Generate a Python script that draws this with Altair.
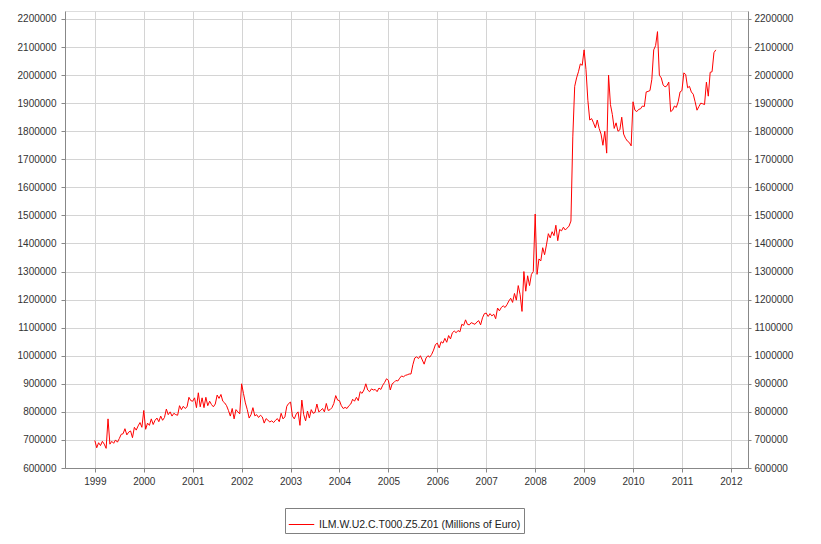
import altair as alt
import pandas as pd

SERIES = "ILM.W.U2.C.T000.Z5.Z01 (Millions of Euro)"

# values in thousands of millions (x1000), roughly every two weeks
v1999 = [698, 672, 690, 680, 695, 685, 670, 775, 685, 695, 688, 700, 692, 705, 720, 722, 740, 718, 728, 732, 708, 745, 735, 750, 762, 745]
v2000 = [805, 738, 760, 752, 775, 755, 770, 778, 765, 785, 770, 780, 810, 790, 800, 785, 795, 790, 788, 822, 808, 820, 812, 818, 852, 840]
v2001 = [838, 850, 815, 868, 818, 850, 815, 852, 822, 838, 826, 818, 828, 860, 848, 862, 838, 832, 822, 805, 785, 812, 775, 808, 800, 793]
v2002 = [900, 865, 832, 808, 778, 790, 815, 786, 790, 780, 788, 782, 760, 776, 770, 764, 768, 762, 770, 776, 765, 795, 775, 782, 820, 830]
v2003 = [835, 785, 775, 792, 800, 752, 842, 790, 768, 803, 778, 808, 795, 798, 828, 800, 805, 812, 800, 830, 805, 808, 815, 830, 858, 842]
v2004 = [840, 822, 812, 816, 812, 822, 828, 845, 838, 852, 840, 872, 866, 878, 900, 878, 872, 882, 878, 880, 872, 885, 880, 895, 905, 918]
v2005 = [912, 878, 900, 905, 912, 910, 920, 928, 925, 930, 932, 935, 935, 968, 992, 996, 990, 1000, 985, 970, 992, 1000, 995, 1005, 1020, 1040]
v2006 = [1045, 1028, 1050, 1045, 1062, 1048, 1072, 1060, 1082, 1088, 1082, 1090, 1085, 1112, 1108, 1128, 1112, 1110, 1118, 1115, 1112, 1120, 1125, 1110, 1135, 1150]
v2007 = [1152, 1140, 1150, 1142, 1148, 1132, 1170, 1160, 1172, 1178, 1172, 1182, 1195, 1205, 1190, 1222, 1198, 1250, 1218, 1158, 1300, 1230, 1285, 1250, 1290, 1300]
v2008 = [1505, 1290, 1345, 1338, 1385, 1360, 1395, 1435, 1420, 1442, 1428, 1465, 1410, 1450, 1445, 1458, 1448, 1455, 1462, 1480, 1780, 1960, 1990, 2012, 2040, 2035]
v2009 = [2090, 2020, 1910, 1840, 1845, 1830, 1812, 1840, 1810, 1790, 1750, 1800, 1722, 2000, 1895, 1860, 1810, 1830, 1800, 1805, 1850, 1790, 1775, 1765, 1760, 1748]
v2010 = [1905, 1875, 1870, 1878, 1880, 1890, 1888, 1940, 1942, 1945, 1985, 2090, 2105, 2155, 2000, 1990, 1965, 1958, 1962, 1975, 1870, 1875, 1890, 1885, 1905, 1940]
v2011 = [1945, 2008, 2002, 1955, 1960, 1940, 1932, 1905, 1875, 1888, 1900, 1898, 1895, 1975, 1925, 2010, 2012, 2080, 2090]

years = list(range(1999, 2012))
yearly = [v1999, v2000, v2001, v2002, v2003, v2004, v2005, v2006, v2007, v2008, v2009, v2010, v2011]

x_ticks = list(range(1999, 2013))
y_ticks = list(range(600000, 2200001, 100000))

rows = []
for yr, vals in zip(years, yearly):
    for i, v in enumerate(vals):
        rows.append({"t": yr + i / 26.0, "value": v * 1000, "series": SERIES})
df = pd.DataFrame(rows)

FONT = "Liberation Sans"
GRID = "#d4d4d4"
AXIS = "#888888"

xenc = alt.X("t:Q",
             scale=alt.Scale(domain=[1998.39, 2012.35], nice=False, zero=False),
             axis=alt.Axis(values=x_ticks, format="d", title=None, grid=True,
                           gridColor=GRID, domainColor=AXIS, tickColor=AXIS,
                           tickSize=4, labelPadding=4, labelFontSize=10,
                           labelFont=FONT, labelColor="#333333"))

yscale = alt.Scale(domain=[600000, 2228500], nice=False, zero=False)

left = alt.Chart(df).mark_line(strokeWidth=1).encode(
    x=xenc,
    y=alt.Y("value:Q", scale=yscale,
            axis=alt.Axis(values=y_ticks, format="d", title=None, grid=True,
                          gridColor=GRID, domainColor=AXIS, tickColor=AXIS,
                          tickSize=4, labelPadding=5, labelFontSize=10,
                          labelFont=FONT, labelColor="#333333", orient="left")),
    color=alt.Color("series:N",
                    scale=alt.Scale(range=["#ff0000"]),
                    legend=alt.Legend(title=None, orient="none", legendX=220, legendY=497,
                                      symbolType="stroke", symbolSize=650,
                                      symbolStrokeWidth=1, strokeColor="#808080",
                                      padding=3, labelFontSize=10.5, labelFont=FONT,
                                      labelColor="#222222", labelLimit=400)),
)

right = alt.Chart(df).mark_line(strokeWidth=1, strokeOpacity=0).encode(
    x=xenc,
    y=alt.Y("value:Q", scale=yscale,
            axis=alt.Axis(values=y_ticks, format="d", title=None, grid=False,
                          domainColor=AXIS, tickColor=AXIS,
                          tickSize=3, labelPadding=3, labelFontSize=10,
                          labelFont=FONT, labelColor="#333333", orient="right")),
)

chart = alt.layer(left, right).resolve_axis(y="independent").properties(
    width=683, height=457,
    autosize=alt.AutoSizeParams(type="none"),
    padding={"left": 57, "top": 3, "right": 50, "bottom": 70},
).configure_view(stroke=None).configure(background="white")

chart.save("out.html", embed_options={"renderer": "svg", "actions": False})
